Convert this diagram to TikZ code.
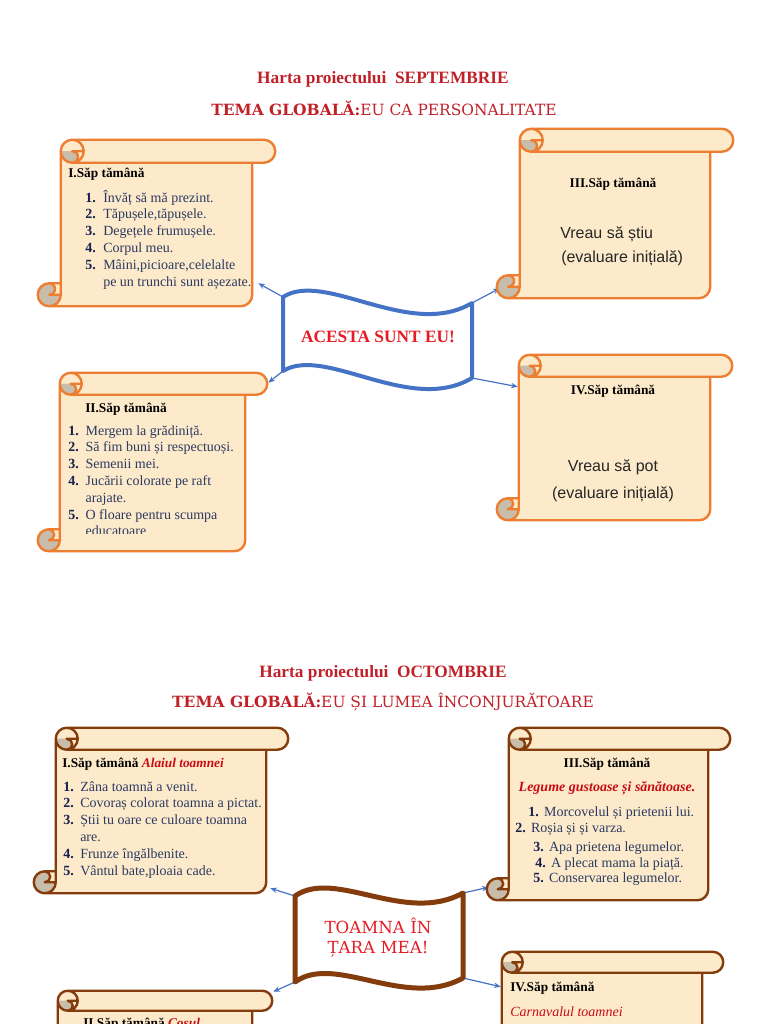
\documentclass[tikz,border=0pt]{standalone}
\usepackage{fontspec}
\setmainfont{Liberation Serif}
\newfontfamily\themefont{DejaVu Serif}
\newfontfamily\notefont{Liberation Sans}
\usepackage{tikz}
\usetikzlibrary{arrows.meta,calc,fit}
\definecolor{titlered}{RGB}{192,32,40}
\definecolor{bannerred}{RGB}{230,28,36}
\definecolor{mottored}{RGB}{200,12,22}
\definecolor{itemblue}{RGB}{42,58,98}
\definecolor{numnavy}{RGB}{22,32,78}
\definecolor{scrollfill}{RGB}{253,234,202}
\definecolor{rollgrey}{RGB}{200,189,170}
\definecolor{septorange}{RGB}{237,125,49}
\definecolor{octbrown}{RGB}{132,60,12}
\definecolor{linkblue}{RGB}{68,114,196}
\newcommand{\itemnr}[1]{\textbf{\color{numnavy}#1}}
\tikzset{
  base/.style={inner sep=0pt},
  rollframe/.style={inner sep=0pt},
  maptitle/.style={base, font=\fontsize{13}{15}\selectfont\bfseries, text=titlered},
  maptheme/.style={base, font=\themefont\fontsize{11.6}{14}\selectfont, text=titlered},
  weekhead/.style={base, font=\fontsize{10}{12}\selectfont\bfseries, text=black},
  weekitems/.style={base, font=\fontsize{10.5}{12.6}\selectfont, text=itemblue},
  weeknote/.style={base, font=\notefont\fontsize{12}{14}\selectfont, text=black!85},
  weekmotto/.style={base, font=\fontsize{10.5}{12.6}\selectfont\bfseries\itshape, text=mottored},
  bannertext/.style={base, text=bannerred, align=center},
  bannerline/.style={line width=3pt, fill=white, line join=round},
  scrollline/.style={line width=1.8pt, line join=round},
  linkarr/.style={-{Stealth[length=5pt,width=4pt]}, line width=0.9pt, draw=linkblue},
}
% scroll drawn on a frame node: #1 node, #2 outline colour, #3 roll size
\newcommand{\scrollshape}[3]{%
  \fill[scrollfill] let \p1=(#1.north west), \p2=(#1.south east) in
    (\x1+#3,\y2+#3) -- (\x1+#3,\y1-0.5*#3)
    arc[start angle=180,end angle=90,radius=0.5*#3] -- (\x2-0.5*#3,\y1)
    arc[start angle=90,end angle=-90,radius=0.5*#3] -- (\x2-#3,\y1-#3)
    -- (\x2-#3,\y2+0.5*#3)
    arc[start angle=0,end angle=-90,radius=0.5*#3] -- (\x1+0.5*#3,\y2)
    arc[start angle=-90,end angle=-270,radius=0.5*#3] -- cycle;
  \fill[rollgrey] let \p1=(#1.north west), \p2=(#1.south east) in
    (\x1+#3,\y1-0.5*#3) arc[start angle=180,end angle=270,radius=0.5*#3]
    arc[start angle=-90,end angle=90,radius=0.25*#3] -- cycle
    (\x1+#3,\y2+0.5*#3) arc[start angle=0,end angle=-270,radius=0.5*#3]
    arc[start angle=90,end angle=-90,radius=0.25*#3] -- cycle;
  \draw[scrollline,#2] let \p1=(#1.north west), \p2=(#1.south east) in
    (\x1+#3,\y2+#3) -- (\x1+#3,\y1-0.5*#3)
    arc[start angle=180,end angle=90,radius=0.5*#3] -- (\x2-0.5*#3,\y1)
    arc[start angle=90,end angle=-90,radius=0.5*#3] -- (\x2-#3,\y1-#3)
    -- (\x2-#3,\y2+0.5*#3)
    arc[start angle=0,end angle=-90,radius=0.5*#3] -- (\x1+0.5*#3,\y2)
    arc[start angle=-90,end angle=-270,radius=0.5*#3] -- cycle
    (\x1+1.5*#3,\y1) arc[start angle=90,end angle=-180,radius=0.5*#3]
    (\x1+1.5*#3,\y1-#3) arc[start angle=-90,end angle=90,radius=0.25*#3] -- (\x1+2*#3,\y1-0.5*#3)
    (\x2-#3,\y1-#3) -- (\x1+1.5*#3,\y1-#3)
    (\x1+0.5*#3,\y2+#3) arc[start angle=90,end angle=-90,radius=0.25*#3] -- (\x1+#3,\y2+0.5*#3)
    (\x1+0.5*#3,\y2) arc[start angle=-90,end angle=0,radius=0.5*#3] -- (\x1+#3,\y2+#3);
}

\begin{document}
\begin{tikzpicture}[x=0.75pt,y=-0.75pt]
  \useasboundingbox (0,0) rectangle (768,1024);
  \clip (0,0) rectangle (768,1024);

  % September map
  \node[maptitle] (t1) at (383,79) {Harta proiectului\ \ SEPTEMBRIE};
  \node[maptheme] (g1) at (384,108) {\textbf{TEMA GLOBALĂ:}EU CA PERSONALITATE};

  \node[rollframe, fit={(38,140) (275,306)}] (wk1) {};
  \node[rollframe, fit={(497,129) (733,298)}] (wk3) {};
  \node[rollframe, fit={(38,373) (267,551)}] (wk2) {};
  \node[rollframe, fit={(497,355) (732,520)}] (wk4) {};

  \coordinate (b1nw) at (283,297);
  \coordinate (b1ne) at (472,303);
  \coordinate (b1se) at (472,378);
  \coordinate (b1sw) at (283,371);

  \draw[linkarr] (b1nw) -- ($(wk1.south east)+(-17,-23)$);
  \draw[linkarr] (b1ne) -- ($(wk3.south west)+(3,-10)$);
  \draw[linkarr] (b1sw) -- ($(wk2.north east)+(1,10)$);
  \draw[linkarr] (b1se) -- ($(wk4.north west)+(21,32)$);

  \draw[bannerline, draw=linkblue] (b1nw) .. controls (325,270) and (410,340) .. (b1ne)
    -- (b1se) .. controls (410,415) and (325,345) .. (b1sw) -- cycle;
  \node[bannertext, font=\fontsize{13}{15}\selectfont\bfseries] (m1) at (378,337) {ACESTA SUNT EU!};

  \scrollshape{wk1}{septorange}{17.25pt}
  \scrollshape{wk3}{septorange}{17.25pt}
  \scrollshape{wk2}{septorange}{16.5pt}
  \scrollshape{wk4}{septorange}{16.5pt}

  \node[weekhead, anchor=base west] (h1) at (68,177) {I.Săp tămână};
  \node[weekitems, anchor=base west] (l1) at (85,202) {\begin{tabular}[t]{@{}p{13.5pt}@{}l@{}}
    \itemnr{1.} & Învăț să mă prezint.\\
    \itemnr{2.} & Tăpușele,tăpușele.\\
    \itemnr{3.} & Degețele frumușele.\\
    \itemnr{4.} & Corpul meu.\\
    \itemnr{5.} & Mâini,picioare,celelalte\\
     & pe un trunchi sunt așezate.
  \end{tabular}};

  \node[weekhead, anchor=base] (h3) at (613,187) {III.Săp tămână};
  \node[weeknote, anchor=base west] (n3a) at (560,238) {Vreau să știu};
  \node[weeknote, anchor=base west] (n3b) at (561,262) {(evaluare inițială)};

  \node[weekhead, anchor=base west] (h2) at (85,412) {II.Săp tămână};
  \begin{scope}
    \clip (38,373) rectangle (267,533);
    \node[weekitems, anchor=base west] (l2) at (68,435) {\begin{tabular}[t]{@{}p{13pt}@{}l@{}}
      \itemnr{1.} & Mergem la grădiniță.\\
      \itemnr{2.} & Să fim buni și respectuoși.\\
      \itemnr{3.} & Semenii mei.\\
      \itemnr{4.} & Jucării colorate pe raft\\
       & arajate.\\
      \itemnr{5.} & O floare pentru scumpa\\
       & educatoare
    \end{tabular}};
  \end{scope}

  \node[weekhead, anchor=base] (h4) at (613,394) {IV.Săp tămână};
  \node[weeknote, anchor=base] (n4a) at (613,471) {Vreau să pot};
  \node[weeknote, anchor=base] (n4b) at (613,498) {(evaluare inițială)};

  % October map
  \node[maptitle] (t2) at (383,673) {Harta proiectului\ \ OCTOMBRIE};
  \node[maptheme] (g2) at (383,702) {\textbf{TEMA GLOBALĂ:}EU ȘI LUMEA ÎNCONJURĂTOARE};

  \node[rollframe, fit={(34,728) (288,893)}] (wo1) {};
  \node[rollframe, fit={(487,728) (730,900)}] (wo3) {};
  \node[rollframe, fit={(38,991) (272,1160)}] (wo2) {};
  \node[rollframe, fit={(481,952) (723,1120)}] (wo4) {};

  \coordinate (b2nw) at (295,896);
  \coordinate (b2ne) at (463,893);
  \coordinate (b2se) at (463,978);
  \coordinate (b2sw) at (295,982);

  \draw[linkarr] (b2nw) -- ($(wo1.south east)+(-18,-5)$);
  \draw[linkarr] (b2ne) -- ($(wo3.south west)+(2,-13)$);
  \draw[linkarr] (b2sw) -- ($(wo2.north east)+(1,1)$);
  \draw[linkarr] (b2se) -- ($(wo4.north west)+(20,35)$);

  \draw[bannerline, line width=3.75pt, draw=octbrown] (b2nw) .. controls (335,868) and (405,925) .. (b2ne)
    -- (b2se) .. controls (405,1010) and (335,953) .. (b2sw) -- cycle;
  \node[bannertext, font=\themefont\fontsize{12.5}{15}\selectfont] (m2) at (378,938) {TOAMNA ÎN\\ȚARA MEA!};

  \scrollshape{wo1}{octbrown}{16.5pt}
  \scrollshape{wo3}{octbrown}{16.5pt}
  \scrollshape{wo2}{octbrown}{15pt}
  \scrollshape{wo4}{octbrown}{15.75pt}

  \node[weekhead, anchor=base west] (h5) at (62,767) {I.Săp tămână \textcolor{mottored}{\itshape Alaiul toamnei}};
  \node[weekitems, anchor=base west] (l5) at (63,791) {\begin{tabular}[t]{@{}p{12.75pt}@{}l@{}}
    \itemnr{1.} & Zâna toamnă a venit.\\
    \itemnr{2.} & Covoraș colorat toamna a pictat.\\
    \itemnr{3.} & Știi tu oare ce culoare toamna\\
     & are.\\
    \itemnr{4.} & Frunze îngălbenite.\\
    \itemnr{5.} & Vântul bate,ploaia cade.
  \end{tabular}};

  \node[weekhead, anchor=base] (h7) at (607,767) {III.Săp tămână};
  \node[weekmotto, anchor=base] (m7) at (607,791) {Legume gustoase și sănătoase.};
  \node[weekitems, anchor=base west] (l7a) at (528,816) {\itemnr{1.}\hspace{4pt}Morcovelul și prietenii lui.};
  \node[weekitems, anchor=base west] (l7b) at (515,832) {\itemnr{2.}\hspace{4pt}Roșia și și varza.};
  \node[weekitems, anchor=base west] (l7c) at (533,851) {\itemnr{3.}\hspace{4pt}Apa prietena legumelor.};
  \node[weekitems, anchor=base west] (l7d) at (535,867) {\itemnr{4.}\hspace{4pt}A plecat mama la piață.};
  \node[weekitems, anchor=base west] (l7e) at (533,882) {\itemnr{5.}\hspace{4pt}Conservarea legumelor.};

  \node[weekhead, anchor=base west] (h6) at (83,1027) {II.Săp tămână \textcolor{mottored}{\itshape Coșul}};

  \node[weekhead, anchor=base west] (h8) at (510,991) {IV.Săp tămână};
  \node[weekmotto, anchor=base west, font=\fontsize{10.5}{12.6}\selectfont\itshape] (m8) at (510,1016) {Carnavalul toamnei};
\end{tikzpicture}
\end{document}
